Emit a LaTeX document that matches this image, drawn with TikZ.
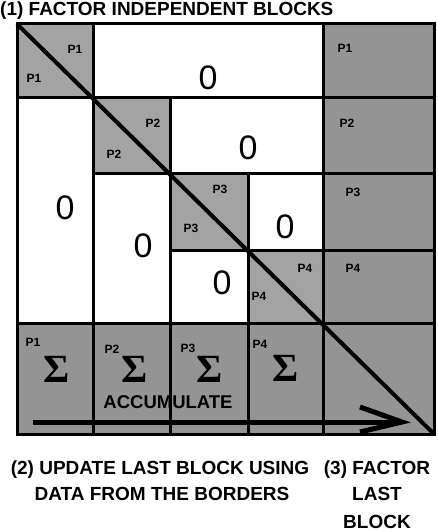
\documentclass[tikz,border=0pt]{standalone}
\usepackage{fontspec}
\setmainfont{Liberation Sans}
\newfontfamily\sigfont{Liberation Serif}
\usetikzlibrary{arrows.meta}
\definecolor{diagfill}{gray}{0.64}
\definecolor{borderfill}{gray}{0.58}
\begin{document}
\begin{tikzpicture}[x=1pt,y=-1pt,
  gridline/.style={line width=3pt, line cap=rect},
  lbl/.style={font=\fontsize{12}{12}\selectfont\bfseries, inner sep=0pt},
  zero/.style={font=\fontsize{34}{34}\selectfont, inner sep=0pt},
  sig/.style={font=\sigfont\fontsize{40}{40}\selectfont\bfseries, inner sep=0pt},
  captext/.style={font=\fontsize{19}{26}\selectfont\bfseries, inner sep=0pt}]
\useasboundingbox (0,0) rectangle (438,532);
% shaded blocks
\fill[diagfill] (17,24) rectangle (93,98);
\fill[diagfill] (93,98) rectangle (170,173);
\fill[diagfill] (170,173) rectangle (248,250);
\fill[diagfill] (248,250) rectangle (323,323);
\fill[borderfill] (323,24) rectangle (434,434);
\fill[borderfill] (17,323) rectangle (434,434);
% grid lines
\draw[gridline] (17,24) rectangle (434,434);
\draw[gridline] (17,98) -- (434,98);
\draw[gridline] (93,173) -- (434,173);
\draw[gridline] (170,250) -- (434,250);
\draw[gridline] (17,323) -- (434,323);
\draw[gridline] (93,24) -- (93,434);
\draw[gridline] (170,98) -- (170,434);
\draw[gridline] (248,173) -- (248,434);
\draw[gridline] (323,24) -- (323,434);
% diagonal
\coordinate (d0) at (17,24);
\coordinate (d1) at (434,434);
\draw[line width=4pt] (d0) -- (d1);
% zeros
\node[zero] (z1) at (208,78) {0};
\node[zero] (z2) at (248,148) {0};
\node[zero] (z3) at (65,208) {0};
\node[zero] (z4) at (143,246) {0};
\node[zero] (z5) at (285,227) {0};
\node[zero] (z6) at (222,283) {0};
% diagonal block labels
\node[lbl] (b1u) at (75,49) {P1};
\node[lbl] (b1l) at (34,78) {P1};
\node[lbl] (b2u) at (153,123) {P2};
\node[lbl] (b2l) at (114,154) {P2};
\node[lbl] (b3u) at (220,189) {P3};
\node[lbl] (b3l) at (191,228) {P3};
\node[lbl] (b4u) at (305,268) {P4};
\node[lbl] (b4l) at (259,296) {P4};
% right column labels
\node[lbl] (r1) at (345,48) {P1};
\node[lbl] (r2) at (347,123) {P2};
\node[lbl] (r3) at (353,192) {P3};
\node[lbl] (r4) at (353,268) {P4};
% bottom row labels
\node[lbl] (c1) at (33,342) {P1};
\node[lbl] (c2) at (112,349) {P2};
\node[lbl] (c3) at (188,348) {P3};
\node[lbl] (c4) at (260,344) {P4};
\node[sig] (s1) at (57,369) {Σ};
\node[sig] (s2) at (135,369) {Σ};
\node[sig] (s3) at (210,369) {Σ};
\node[sig] (s4) at (286,368) {Σ};
% accumulate arrow
\coordinate (as) at (33,422);
\coordinate (ae) at (402,422);
\draw[line width=5pt] (as) -- (ae);
\draw[line width=5pt, line join=miter] ([shift={(-42,-15)}]ae) -- (ae) -- ([shift={(-42,10)}]ae);
\node[font=\fontsize{18.5}{18.5}\selectfont\bfseries, inner sep=0pt, anchor=base] (acc) at (168,408) {ACCUMULATE};
% captions
\node[captext, anchor=base west] (t1) at (0,16) {(1) FACTOR INDEPENDENT BLOCKS};
\node[captext, anchor=base] (t2a) at (160,474) {(2) UPDATE LAST BLOCK USING};
\node[captext, anchor=base] (t2b) at (162,500) {DATA FROM THE BORDERS};
\node[captext, anchor=base] (t3a) at (377,474) {(3) FACTOR};
\node[captext, anchor=base] (t3b) at (377,500) {LAST};
\node[captext, anchor=base] (t3c) at (377,528) {BLOCK};
\end{tikzpicture}
\end{document}
